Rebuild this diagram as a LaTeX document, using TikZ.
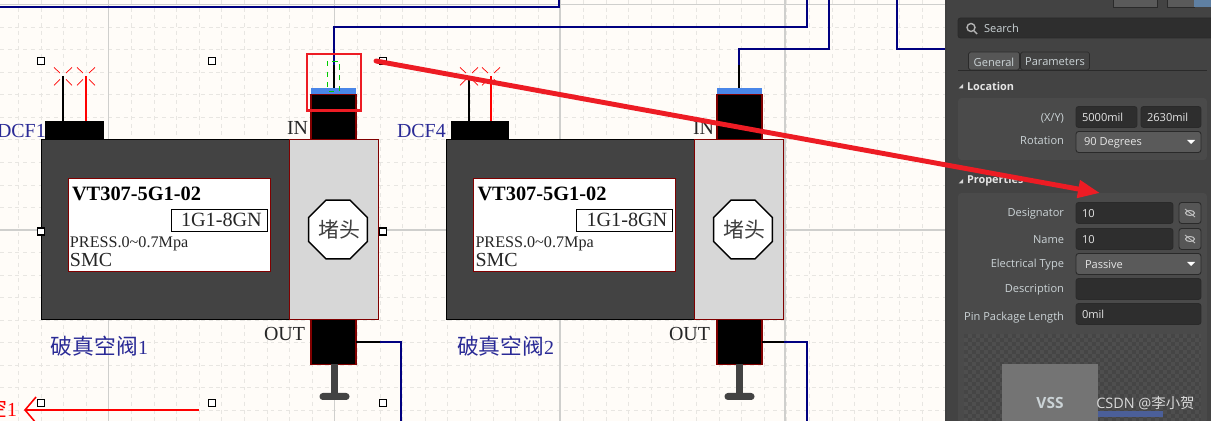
\documentclass[tikz,border=0pt]{standalone}
\usepackage{fontspec}
\setmainfont{Liberation Serif}
\newfontfamily\cjk{Noto Sans CJK SC}
\newfontfamily\panelfont{Open Sans}
\usepackage{tikz}
\usetikzlibrary{arrows.meta,shapes.geometric}

\definecolor{sheetbg}{HTML}{FFFCF8}
\definecolor{gridminor}{HTML}{E8E6E2}
\definecolor{gridmajor}{HTML}{CFCFCD}
\definecolor{wirenavy}{HTML}{000080}
\definecolor{bodydark}{HTML}{434343}
\definecolor{capgrey}{HTML}{D7D7D7}
\definecolor{edgered}{HTML}{800000}
\definecolor{pinblue}{HTML}{4A86E8}
\definecolor{markred}{HTML}{ED1C24}
\definecolor{desigblue}{HTML}{2A2A96}
\definecolor{panelbg}{HTML}{434343}
\definecolor{groupbg}{HTML}{4A4A4A}
\definecolor{fieldbg}{HTML}{2E2E2E}
\definecolor{combobg}{HTML}{5A5A5A}
\definecolor{panelfg}{HTML}{CBD3D6}
\definecolor{fieldedge}{HTML}{2A2A2A}
\definecolor{toolgrey}{HTML}{5A5A5A}
\definecolor{toolblue}{HTML}{5F80A3}
\definecolor{tabgrey}{HTML}{565656}
\definecolor{vssgrey}{HTML}{747474}
\definecolor{vssbar}{HTML}{4B5F99}
\definecolor{checkA}{HTML}{4E4E4E}
\definecolor{checkB}{HTML}{454545}

\tikzset{
    boxbase/.style={inner sep=0pt,outer sep=0pt},
    bodybox/.style={boxbase,draw=black,fill=bodydark,line width=0.6pt,minimum width=4.96cm,minimum height=3.6cm},
    capbox/.style={boxbase,draw=edgered,fill=capgrey,line width=0.6pt,minimum width=1.78cm,minimum height=3.6cm},
    labelbox/.style={boxbase,draw=edgered,fill=white,line width=0.6pt,minimum width=4.04cm,minimum height=1.86cm},
    partbox/.style={boxbase,draw=black,fill=white,line width=0.6pt,minimum width=1.92cm,minimum height=0.44cm},
    plugbox/.style={boxbase,draw=black,fill=white,line width=0.8pt,regular polygon,regular polygon sides=8,minimum size=1.27cm},
    pinbox/.style={boxbase,draw=edgered,fill=black,line width=0.6pt,minimum width=0.9cm,minimum height=0.89cm},
    dcfbox/.style={boxbase,fill=black,minimum height=0.37cm},
    stripbox/.style={boxbase,fill=pinblue,minimum width=0.9cm,minimum height=0.13cm},
    handlebox/.style={boxbase,draw=black,fill=white,line width=0.6pt,minimum size=0.14cm},
    wire/.style={draw=wirenavy,line width=1.15pt},
    lead/.style={draw=black,line width=1.15pt},
    redlead/.style={draw=red,line width=1.15pt},
    crossline/.style={draw=red,line width=0.4pt},
    txt/.style={inner sep=0pt,outer sep=0pt,anchor=base west,font=\fontsize{11.34}{12}\selectfont},
    pintxt/.style={txt,text=black!85},
    desig/.style={txt,text=desigblue},
    fieldbox/.style={boxbase,draw=fieldedge,fill=fieldbg,rounded corners=1.5pt,line width=0.5pt,minimum height=0.42cm},
    combobox/.style={fieldbox,fill=combobg},
    groupbox/.style={boxbase,fill=groupbg,rounded corners=2pt},
    plabel/.style={inner sep=0pt,outer sep=0pt,anchor=east,text=panelfg,font=\panelfont\fontsize{6.3}{7}\selectfont},
    pvalue/.style={inner sep=0pt,outer sep=0pt,anchor=west,text=white!90!black,font=\panelfont\fontsize{6.3}{7}\selectfont},
    phead/.style={inner sep=0pt,outer sep=0pt,anchor=west,text=white!90!black,font=\panelfont\bfseries\fontsize{6.2}{7}\selectfont},
}

\begin{document}
\begin{tikzpicture}[x=0.02cm,y=-0.02cm]
    \useasboundingbox (0,0) rectangle (1211,421);
    \clip (0,0) rectangle (1211,421);
    \fill[sheetbg] (0,0) rectangle (946,421);

    % grid
    \foreach \k in {0,...,41}
        \draw[gridminor,line width=0.45pt,dash pattern=on 2.2pt off 2.2pt] ({18.3+22.6*\k},0) -- ({18.3+22.6*\k},421);
    \foreach \k in {0,...,18}
        \draw[gridminor,line width=0.45pt,dash pattern=on 2.2pt off 2.2pt] (0,{4.7+22.53*\k}) -- (946,{4.7+22.53*\k});
    \foreach \x in {108.7,334.5,560,785}
        \draw[gridmajor,line width=0.6pt] (\x,0) -- (\x,421);
    \foreach \y in {4.7,230}
        \draw[gridmajor,line width=0.6pt] (0,\y) -- (946,\y);

    % first valve
    \node (body1) [bodybox] at (165.4,229.5) {};
    \node (cap1) [capbox] at (334.1,229.5) {};
    \node (label1) [labelbox] at (169.5,225) {};
    \node (part1) [partbox] at (219.2,220.5) {};
    \node (plug1) [plugbox] at (338,229.5) {};
    \node (dcf1) [dcfbox,minimum width=1.18cm] at (74.5,130.2) {};
    \node (in1) [pinbox] at (333.5,117) {};
    \node (strip1) [stripbox] at (333.5,91.2) {};
    \node (out1) [pinbox] at (333.5,342.2) {};

    % second valve
    \node (body2) [bodybox] at (570.4,229.5) {};
    \node (cap2) [capbox] at (739.1,229.5) {};
    \node (label2) [labelbox] at (574.5,225) {};
    \node (part2) [partbox] at (624.2,220.5) {};
    \node (plug2) [plugbox] at (743,229.5) {};
    \node (dcf2) [dcfbox,minimum width=1.16cm] at (480,130.2) {};
    \node (in2) [pinbox] at (739.5,117) {};
    \node (strip2) [stripbox] at (739.5,91.2) {};
    \node (out2) [pinbox] at (739.5,342.2) {};

    % wire ends
    \coordinate (topA) at (0,6.7);
    \coordinate (topB) at (559,6.7);
    \coordinate (topC) at (559,0);
    \coordinate (netA) at (334,27);
    \coordinate (netB) at (807,27);
    \coordinate (netC) at (807,0);
    \coordinate (netD) at (739,49);
    \coordinate (netE) at (829,49);
    \coordinate (netF) at (829,0);
    \coordinate (netG) at (897,0);
    \coordinate (netH) at (897,49);
    \coordinate (netI) at (946,49);
    \coordinate (pinA) at (334,65);
    \coordinate (pinB) at (739,65);
    \coordinate (outA) at (380,341.7);
    \coordinate (outB) at (401,341.7);
    \coordinate (outC) at (401,421);
    \coordinate (outD) at (784,341.7);
    \coordinate (outE) at (807,341.7);
    \coordinate (outF) at (807,421);

    \draw[wire] (topA) -- (topB) -- (topC);
    \draw[wire] (pinA) -- (netA) -- (netB) -- (netC);
    \draw[wire] (pinB) -- (netD) -- (netE) -- (netF);
    \draw[wire] (netG) -- (netH) -- (netI);
    \draw[wire] (outA) -- (outB) -- (outC);
    \draw[wire] (outD) -- (outE) -- (outF);
    \draw[lead] (pinA) -- (pinA |- strip1.north);
    \draw[lead] (pinB) -- (pinB |- strip2.north);
    \draw[lead] (out1.east |- outA) -- (outA);
    \draw[lead] (out2.east |- outD) -- (outD);

    % DCF leads
    \coordinate (lead1a) at (63,76);
    \coordinate (lead1b) at (86,76);
    \coordinate (lead2a) at (469,76);
    \coordinate (lead2b) at (491,76);
    \draw[lead] (lead1a) -- (lead1a |- dcf1.north);
    \draw[redlead] (lead1b) -- (lead1b |- dcf1.north);
    \draw[lead] (lead2a) -- (lead2a |- dcf2.north);
    \draw[redlead] (lead2b) -- (lead2b |- dcf2.north);
    \foreach \x in {63,86,469,491}
        \draw[crossline] (\x-9,67.5) -- (\x-3,73) (\x+9,67.5) -- (\x+3,73) (\x-9,85.5) -- (\x-3,79.5) (\x+9,85.5) -- (\x+3,79.5);

    % T handles
    \foreach \x in {334.5,739.5} {
        \fill[bodydark] (\x-3.5,364.5) rectangle (\x+3.5,396);
        \fill[bodydark,rounded corners=1.9pt] (\x-15,393) rectangle (\x+15,400);
    }

    % texts of first valve
    \node (dcfname1) [desig] at (-3,138) {DCF1};
    \node (intxt1) [pintxt] at (287,134.5) {IN};
    \node (outtxt1) [pintxt] at (264,341) {OUT};
    \node (name1) [desig] at (51,355) {{\cjk\fontsize{12.4}{13}\selectfont 破真空阀}1};
    \node (type1) [txt,font=\bfseries\fontsize{11.6}{12}\selectfont] at (72,200.5) {VT307-5G1-02};
    \node (code1) [txt,text=black!85,font=\fontsize{11.5}{12}\selectfont] at (181,227) {1G1-8GN};
    \node (press1) [txt,text=black!85,font=\fontsize{9.2}{10}\selectfont] at (70,247.7) {PRESS.0\textasciitilde 0.7Mpa};
    \node (smc1) [txt,text=black!85] at (70,266.7) {SMC};
    \node (plugtxt1) [inner sep=0pt,text=black!75,font=\cjk\fontsize{11.9}{12}\selectfont] at (339,230) {堵头};

    % texts of second valve
    \node (dcfname2) [desig] at (397,138) {DCF4};
    \node (intxt2) [pintxt] at (693,134.5) {IN};
    \node (outtxt2) [pintxt] at (669,341) {OUT};
    \node (name2) [desig] at (457,355) {{\cjk\fontsize{12.4}{13}\selectfont 破真空阀}2};
    \node (type2) [txt,font=\bfseries\fontsize{11.6}{12}\selectfont] at (477.5,200.5) {VT307-5G1-02};
    \node (code2) [txt,text=black!85,font=\fontsize{11.5}{12}\selectfont] at (586.5,227) {1G1-8GN};
    \node (press2) [txt,text=black!85,font=\fontsize{9.2}{10}\selectfont] at (475.5,247.7) {PRESS.0\textasciitilde 0.7Mpa};
    \node (smc2) [txt,text=black!85] at (475.5,266.7) {SMC};
    \node (plugtxt2) [inner sep=0pt,text=black!75,font=\cjk\fontsize{11.9}{12}\selectfont] at (744,230) {堵头};

    % net label at the lower left
    \coordinate (netlabelA) at (199,410);
    \coordinate (netlabelB) at (24,410);
    \draw[draw=red,line width=0.9pt,-{Straight Barb[length=0.22cm,width=0.52cm]}] (netlabelA) -- (netlabelB);
    \node (netname) [txt,anchor=base east,text=red] at (17,417) {{\cjk\fontsize{11.9}{12}\selectfont 空}1};

    % selection handles
    \foreach \nm/\x/\y in {hA/41/61,hB/212/61,hC/383/61,hD/41/231.5,hE/383/231.5,hF/41/403,hG/212/403,hH/383/403}
        \node (\nm) [handlebox] at (\x,\y) {};

    % selected pin
    \draw[green!80!black,line width=0.4pt,dashed] (327.5,61) rectangle (339.5,91);
    \draw[markred,line width=1.2pt] (307,54) rectangle (361,110.5);

    % properties panel
    \fill[panelbg] (946,0) rectangle (1211,421);
    \draw[black!75,line width=0.6pt] (946,0) -- (946,421);
    \draw[fill=toolgrey,draw=fieldedge,line width=0.4pt] (1113,-2) rectangle (1157,7);
    \draw[fill=toolgrey,draw=fieldedge,line width=0.4pt] (1167,-2) rectangle (1194,7);
    \fill[toolblue] (1194,-2) rectangle (1211,7);

    \node (searchbox) [fieldbox,anchor=west,minimum width=5.2cm,minimum height=0.4cm] at (958,28) {};
    \draw[black!30!white,line width=0.8pt] (971,27.5) circle (4) (974,31) -- (977,34);
    \node (searchtxt) [pvalue,text=panelfg] at (984,28) {Search};

    \node (tabgeneral) [boxbase,fill=tabgrey,draw=fieldedge,rounded corners=1pt,minimum width=1.02cm,minimum height=0.36cm] at (994,61) {};
    \node (tabparams) [boxbase,draw=fieldedge,rounded corners=1pt,minimum width=1.38cm,minimum height=0.36cm] at (1055,61) {};
    \node (tabgeneraltxt) [plabel,anchor=center] at (994,62) {General};
    \node (tabparamstxt) [plabel,anchor=center] at (1055,62) {Parameters};
    \draw[fieldedge,line width=0.5pt] (958,70.5) -- (1207,70.5);

    \fill[white!85!black] (958.5,88.5) -- (963,84) -- (963,88.5) -- cycle;
    \node (locationhead) [phead] at (967,86) {Location};
    \node (locationbox) [groupbox,anchor=north west,minimum width=4.98cm,minimum height=1.24cm] at (958,98) {};
    \node (xylabel) [plabel] at (1064,118) {(X/Y)};
    \node (xfield) [fieldbox,anchor=west,minimum width=1.22cm] at (1076,117) {};
    \node (yfield) [fieldbox,anchor=west,minimum width=1.2cm] at (1141,117) {};
    \node (xvalue) [pvalue] at (1082,117.5) {5000mil};
    \node (yvalue) [pvalue] at (1147,117.5) {2630mil};
    \node (rotlabel) [plabel] at (1064,141) {Rotation};
    \node (rotfield) [combobox,anchor=west,minimum width=2.5cm] at (1076,142) {};
    \node (rotvalue) [pvalue] at (1084,142.5) {90 Degrees};
    \fill[white] (1187,140) -- (1195,140) -- (1191,144) -- cycle;

    \fill[white!85!black] (958.5,183.5) -- (963,179) -- (963,183.5) -- cycle;
    \node (propbox) [groupbox,anchor=north west,minimum width=4.98cm,minimum height=4.6cm] at (958,193) {};
    \node (prophead) [phead] at (967,181) {Properties};

    \foreach \nm/\txtlabel/\y in {desigf/Designator/213,namef/Name/239}{
        \node (\nm label) [plabel] at (1064,\y+1) {\txtlabel};
        \node (\nm) [fieldbox,anchor=west,minimum width=1.94cm] at (1076,\y) {};
        \node (\nm value) [pvalue] at (1082,\y+0.5) {10};
        \node (\nm eye) [combobox,fill=tabgrey,anchor=west,minimum width=0.44cm] at (1179,\y) {};
        \draw[black!25!white,line width=0.5pt] (1185,\y-4) -- (1195,\y+4);
        \draw[black!25!white,line width=0.6pt] (1190,\y) ellipse (4.5 and 2.5);
    }
    \node (typelabel) [plabel] at (1064,265) {Electrical Type};
    \node (typefield) [combobox,anchor=west,minimum width=2.5cm] at (1076,264) {};
    \node (typevalue) [pvalue] at (1085,264.5) {Passive};
    \fill[white] (1187,262) -- (1195,262) -- (1191,266) -- cycle;
    \node (desclabel) [plabel] at (1064,290) {Description};
    \node (descfield) [fieldbox,anchor=west,minimum width=2.5cm] at (1076,289) {};
    \node (lenlabel) [plabel] at (1064,318) {Pin Package Length};
    \node (lenfield) [fieldbox,anchor=west,minimum width=2.5cm] at (1076,314) {};
    \node (lenvalue) [pvalue] at (1082,314) {0mil};

    % pin preview
    \fill[checkA] (964,334) rectangle (1201,421);
    \foreach \k in {0,...,21}
        \pgfmathsetmacro{\phase}{mod(\k,2)*2.27}
        \draw[checkB,line width=2.27pt,dash pattern=on 2.27pt off 2.27pt,dash phase=\phase pt] (964,{336+4*\k}) -- (1201,{336+4*\k});
    \node (vssbox) [boxbase,fill=vssgrey,anchor=north west,minimum width=1.92cm,minimum height=1.2cm] at (1002,364) {};
    \fill[vssbar] (1098,411) rectangle (1163,417);
    \node (vsstxt) [inner sep=0pt,text=panelfg,font=\panelfont\bfseries\fontsize{8.8}{9}\selectfont] at (1050,403) {VSS};
    \node (mark) [inner sep=0pt,anchor=west,text=black!15!white,font=\panelfont\fontsize{8.2}{9}\selectfont] at (1096,403) {CSDN @{\cjk 李小贺}};

    % big red arrow
    \coordinate (arrowA) at (376,61);
    \coordinate (arrowB) at (1100,193);
    \draw[markred,line width=2.8pt,line cap=round,-{Triangle[length=0.44cm,width=0.34cm]}] (arrowA) -- (arrowB);
\end{tikzpicture}
\end{document}
